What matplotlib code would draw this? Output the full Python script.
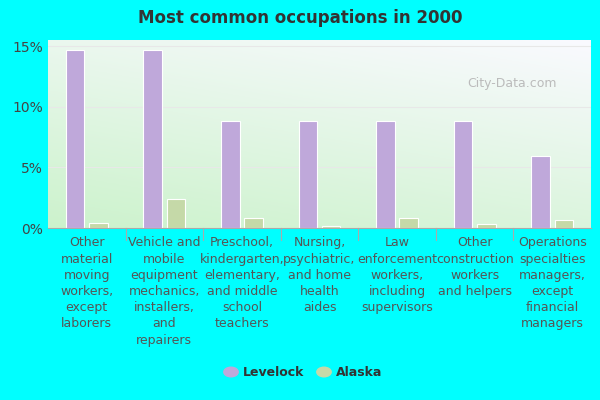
import matplotlib.pyplot as plt
import numpy as np

categories = [
    "Other\nmaterial\nmoving\nworkers,\nexcept\nlaborers",
    "Vehicle and\nmobile\nequipment\nmechanics,\ninstallers,\nand\nrepairers",
    "Preschool,\nkindergarten,\nelementary,\nand middle\nschool\nteachers",
    "Nursing,\npsychiatric,\nand home\nhealth\naides",
    "Law\nenforcement\nworkers,\nincluding\nsupervisors",
    "Other\nconstruction\nworkers\nand helpers",
    "Operations\nspecialties\nmanagers,\nexcept\nfinancial\nmanagers",
]
levelock = [14.7, 14.7, 8.8, 8.8, 8.8, 8.8, 5.9]
alaska = [0.4, 2.4, 0.8, 0.2, 0.8, 0.3, 0.7]

fig = plt.figure(figsize=(6, 4), dpi=100, facecolor="#00FFFF")
ax = fig.add_axes([0.08, 0.43, 0.905, 0.47])
ax.set_facecolor("none")

ymax = 15.5
# background gradient: green at bottom-left, white at top-right
gx, gy = np.meshgrid(np.linspace(0, 1, 200), np.linspace(0, 1, 100))
t = np.clip((gx * 0.5 + gy) / 1.5, 0, 1)
c0 = np.array([0.80, 0.95, 0.80])
c1 = np.array([0.98, 0.98, 1.0])
img = c0[None, None, :] * (1 - t[..., None]) + c1[None, None, :] * t[..., None]
ax.imshow(img, extent=[-0.5, 6.5, 0, ymax], origin="lower", aspect="auto", zorder=0)

x = np.arange(len(categories))
w = 0.24
ax.bar(x - 0.15, levelock, w, color="#bfa8da", edgecolor="white", linewidth=0.8, zorder=2)
ax.bar(x + 0.15, alaska, w, color="#c5d9a8", edgecolor="white", linewidth=0.8, zorder=2)

ax.set_xlim(-0.5, 6.5)
ax.set_ylim(0, ymax)
ax.set_yticks([0, 5, 10, 15])
ax.set_yticklabels(["0%", "5%", "10%", "15%"], fontsize=10, color="#444444")
for v in [5, 10, 15]:
    ax.axhline(v, color="#e8e8e8", linewidth=0.8, zorder=1)
ax.set_xticks(x)
ax.set_xticklabels(categories, fontsize=9, color="#555555", linespacing=1.32, va="top")
ax.tick_params(axis="x", length=0, pad=6)
ax.tick_params(axis="y", length=0)
for b in np.arange(0.5, 6.5, 1):
    ax.plot([b, b], [0, -1.0], color="#aaaaaa", linewidth=0.8, clip_on=False)
for s in ["top", "right", "left"]:
    ax.spines[s].set_visible(False)
ax.spines["bottom"].set_color("#aaaaaa")

fig.text(0.5, 0.955, "Most common occupations in 2000", ha="center", va="center",
         fontsize=12, fontweight="bold", color="#333333")
fig.text(0.853, 0.79, "City-Data.com", ha="center", va="center", fontsize=9, color="#bbbbbb")

fig.patches.append(plt.Circle((0.385, 0.07), 0.012, transform=fig.transFigure, color="#bfa8da", figure=fig))
fig.text(0.405, 0.07, "Levelock", va="center", fontsize=9, fontweight="bold", color="#333333")
fig.patches.append(plt.Circle((0.54, 0.07), 0.012, transform=fig.transFigure, color="#c5d9a8", figure=fig))
fig.text(0.56, 0.07, "Alaska", va="center", fontsize=9, fontweight="bold", color="#333333")

fig.savefig("out.png", dpi=100, facecolor=fig.get_facecolor())
